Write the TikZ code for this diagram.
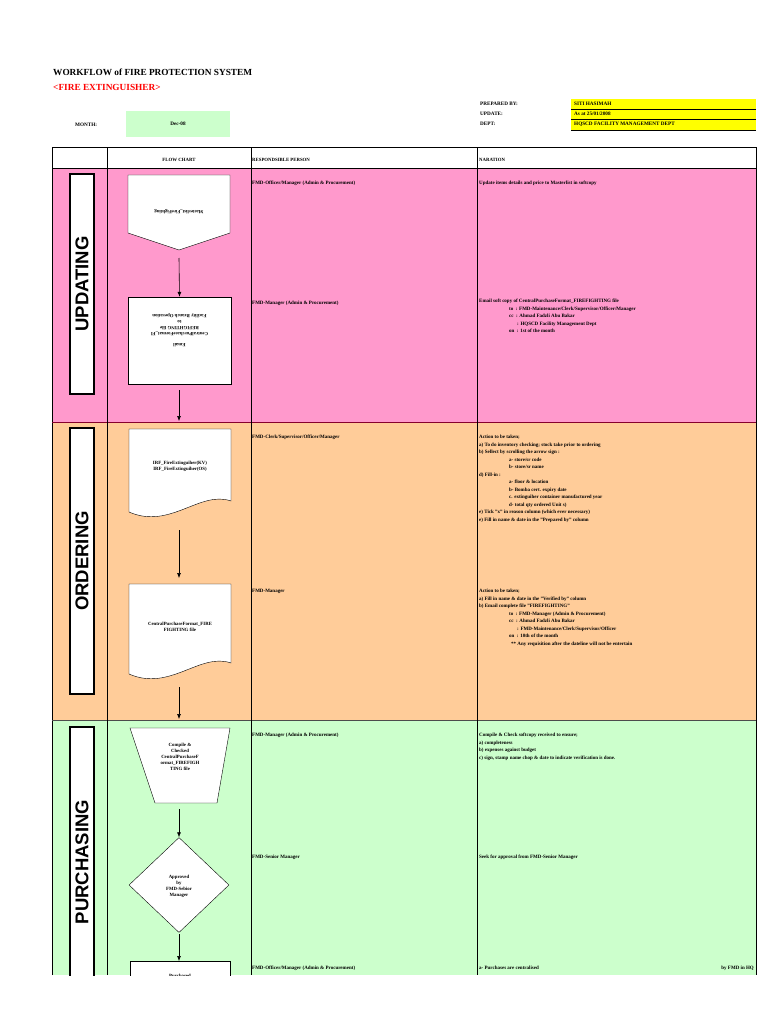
\documentclass[tikz,border=0pt]{standalone}
\usepackage{fontspec}
\setmainfont{Liberation Serif}
\newfontfamily\sansb{Liberation Sans}
\usetikzlibrary{shapes.geometric,arrows.meta}
\definecolor{pinkc}{RGB}{255,153,204}
\definecolor{orangec}{RGB}{255,204,153}
\definecolor{greenc}{RGB}{204,255,204}
\definecolor{yel}{RGB}{255,255,0}
\tikzset{
 sm/.style={font=\fontsize{5}{7.5}\selectfont\bfseries, inner sep=0pt, anchor=north west, align=left},
 fc/.style={font=\fontsize{4.8}{6}\selectfont\bfseries, align=center, inner sep=0pt},
 flowbox/.style={draw, fill=white, line width=0.4pt},
 arr/.style={-{Latex[length=5pt,width=4pt]}, line width=0.6pt},
 stage/.style={draw, line width=2.5pt, fill=white, rotate=90, font=\sansb\bfseries\fontsize{18.5}{18.5}\selectfont, minimum height=24pt, inner sep=0pt}
}
\begin{document}
\begin{tikzpicture}[x=1pt,y=-1pt]
\useasboundingbox (0,0) rectangle (768,1024);
\fill[white] (0,0) rectangle (768,1024);
% header
\node[anchor=west,font=\bfseries\fontsize{9.3}{10}\selectfont,inner sep=0] (t1) at (53,72) {WORKFLOW of FIRE PROTECTION SYSTEM};
\node[anchor=west,font=\bfseries\fontsize{9.3}{10}\selectfont,inner sep=0,text=red] (t2) at (53,87) {<FIRE EXTINGUISHER>};
\node[anchor=west,font=\bfseries\fontsize{5.2}{6}\selectfont,inner sep=0] (mo) at (75,125) {MONTH:};
\node[fill=greenc,minimum width=104pt,minimum height=26pt,inner sep=0,font=\bfseries\fontsize{5.2}{6}\selectfont] (mv) at (178,124) {Dec-08};
\node[anchor=west,font=\bfseries\fontsize{5.2}{6}\selectfont,inner sep=0] (p1) at (480,104) {PREPARED BY:};
\node[anchor=west,font=\bfseries\fontsize{5.2}{6}\selectfont,inner sep=0] (p2) at (480,114) {UPDATE:};
\node[anchor=west,font=\bfseries\fontsize{5.2}{6}\selectfont,inner sep=0] (p3) at (480,124) {DEPT:};
\fill[yel] (571,99) rectangle (756,130);
\draw[line width=0.4pt] (571,109.5) -- (756,109.5) (571,119.5) -- (756,119.5) (571,130) -- (756,130);
\node[anchor=west,font=\bfseries\fontsize{5.2}{6}\selectfont,inner sep=0] (y1) at (574,104) {SITI HASIMAH};
\node[anchor=west,font=\bfseries\fontsize{5.2}{6}\selectfont,inner sep=0] (y2) at (574,114) {As at 25/01/2008};
\node[anchor=west,font=\bfseries\fontsize{5.2}{6}\selectfont,inner sep=0] (y3) at (574,124) {HQSCD FACILITY MANAGEMENT DEPT};
% rows
\fill[pinkc] (52,168) rectangle (756,422);
\fill[orangec] (52,422) rectangle (756,720);
\fill[greenc] (52,720) rectangle (756,975);
\draw[line width=1pt] (52,975) -- (52,148) -- (756,148) -- (756,975);
\draw[line width=0.8pt] (52,168) -- (756,168);
\draw[line width=1pt,draw=purple!70!black] (52,422) -- (756,422);
\draw[line width=1pt,draw=black!70] (52,720) -- (756,720);
\draw[line width=0.6pt] (107,148) -- (107,975) (251,148) -- (251,975) (477,148) -- (477,975);
\node[font=\bfseries\fontsize{4.8}{6}\selectfont] (h1) at (179,160) {FLOW CHART};
\node[anchor=west,font=\bfseries\fontsize{4.8}{6}\selectfont,inner sep=0] (h2) at (252,160) {RESPONDSIBLE PERSON};
\node[anchor=west,font=\bfseries\fontsize{4.8}{6}\selectfont,inner sep=0] (h3) at (479,160) {NARATION};
% stage labels
\node[stage,minimum width=220pt] (s1) at (82,284) {UPDATING};
\node[stage,minimum width=266pt] (s2) at (82,561) {ORDERING};
\begin{scope}
\clip (52,720) rectangle (756,975);
\node[stage,minimum width=270pt] (s3) at (82,862) {PURCHASING};
\end{scope}
% updating flow
\draw[flowbox] (128,175) -- (230,175) -- (230,233) -- (179,250) -- (128,233) -- cycle;
\node[fc,rotate=180] (m1) at (179,212) {Masterlist\_FireFighting};
\coordinate (m1b) at (179,258);
\node[flowbox,minimum width=103pt,minimum height=87pt,inner sep=0] (e1) at (179.5,340.5) {};
\node[fc,rotate=180] (e1t) at (179.5,330) {Email\\[5pt] CentralPurchaseFormat\_FI\\REFIGHTING file\\to\\Facility Branch Operation};
\draw[arr] (m1b) -- (e1.north);
\coordinate (e1a) at (179,390);
\coordinate (e1c) at (179,421);
\draw[arr] (e1a) -- (e1c);
% ordering flow
\draw[flowbox] (129,429) -- (231,429) -- (231,501) .. controls (200,490) and (170,530) .. (129,512) -- cycle;
\node[fc] (d1) at (180,466) {IRF\_FireExtinguiher(KV)\\IRF\_FireExtinguiher(OS)};
\coordinate (d1b) at (179,530);
\coordinate (d2a) at (179,578);
\draw[arr] (d1b) -- (d2a);
\draw[flowbox] (129,584) -- (231,584) -- (231,663) .. controls (200,652) and (170,692) .. (129,674) -- cycle;
\node[fc] (d2) at (180,627) {CentralPurchaseFormat\_FIRE\\FIGHTING file};
\coordinate (d2b) at (179,687);
\coordinate (d2c) at (179,719);
\draw[arr] (d2b) -- (d2c);
% purchasing flow
\draw[flowbox] (130,728) -- (230,728) -- (217,803) -- (155,803) -- cycle;
\node[fc] (tz) at (180,757) {Compile \&\\Checked\\CentralPurchaseF\\ormat\_FIREFIGH\\TING file};
\coordinate (tzb) at (179,809);
\node[diamond,flowbox,minimum width=100pt,minimum height=95pt,inner sep=0,aspect=1.05] (dm) at (179,885) {};
\node[fc] (dmt) at (179,886) {Approved\\by\\FMD-Sebior\\Manager};
\draw[arr] (tzb) -- (dm.north);
\coordinate (dmb) at (179,934);
\begin{scope}
\clip (52,720) rectangle (756,975);
\node[flowbox,minimum width=100pt,minimum height=40pt,anchor=north] (pb) at (180,961) {};
\node[fc] (pbt) at (180,976) {Purchased};
\end{scope}
\draw[arr] (dmb) -- (179,961);
% responsible
\node[sm] (r1) at (252,181) {FMD-Officer/Manager (Admin \& Procurement)};
\node[sm] (r2) at (252,301) {FMD-Manager (Admin \& Procurement)};
\node[sm] (r3) at (252,435) {FMD-Clerk/Supervisor/Officer/Manager};
\node[sm] (r4) at (252,589) {FMD-Manager};
\node[sm] (r5) at (252,733) {FMD-Manager (Admin \& Procurement)};
\node[sm] (r6) at (252,855) {FMD-Senior Manager};
\node[sm] (r7) at (252,966) {FMD-Officer/Manager (Admin \& Procurement)};
% narration
\node[sm] (n1) at (479,181) {Update items details and price to Masterlist in softcopy};
\node[sm] (n2) at (479,299) {Email soft copy of CentralPurchaseFormat\_FIREFIGHTING file\\
\hspace{30pt}to\ \ : FMD-Maintenance/Clerk/Supervisor/Officer/Manager\\
\hspace{30pt}cc\ \ : Ahmad Fadzli Abu Bakar\\
\hspace{38pt}: HQSCD Facility Management Dept\\
\hspace{30pt}on\ \ : 1st of the month};
\node[sm] (n3) at (479,435) {Action to be taken;\\
a) To do inventory checking; stock take prior to ordering\\
b) Sellect by scrolling the arrow sign :\\
\hspace{30pt}a- store/sr code\\
\hspace{30pt}b- store/sr name\\
d) Fill-in :\\
\hspace{30pt}a- floor \& location\\
\hspace{30pt}b- Bomba cert. expiry date\\
\hspace{30pt}c. extinguiher container manufactured year\\
\hspace{30pt}d- total qty ordered Unit s)\\
e) Tick "x" in reason column (which ever necessary)\\
e) Fill in name \& date in the "Prepared by" column};
\node[sm] (n4) at (479,589) {Action to be taken;\\
a) Fill in name \& date in the "Verified by" column\\
b) Email complete file "FIREFIGHTING"\\
\hspace{30pt}to\ \ : FMD-Manager (Admin \& Procurement)\\
\hspace{30pt}cc\ \ : Ahmad Fadzli Abu Bakar\\
\hspace{38pt}: FMD-Maintenance/Clerk/Supervisor/Officer\\
\hspace{30pt}on\ \ : 10th of the month\\
\hspace{32pt}** Any requisition after the dateline will not be entertain};
\node[sm] (n5) at (479,733) {Compile \& Check softcopy received to ensure;\\
a) completeness\\
b) expenses against budget\\
c) sign, stamp name chop \& date to indicate verification is done.};
\node[sm] (n6) at (479,855) {Seek for approval from FMD-Senior Manager};
\node[sm] (n7) at (479,966) {a- Purchases are centralised};
\node[sm,anchor=north east] (n8) at (754,966) {by FMD in HQ};
\end{tikzpicture}
\end{document}
